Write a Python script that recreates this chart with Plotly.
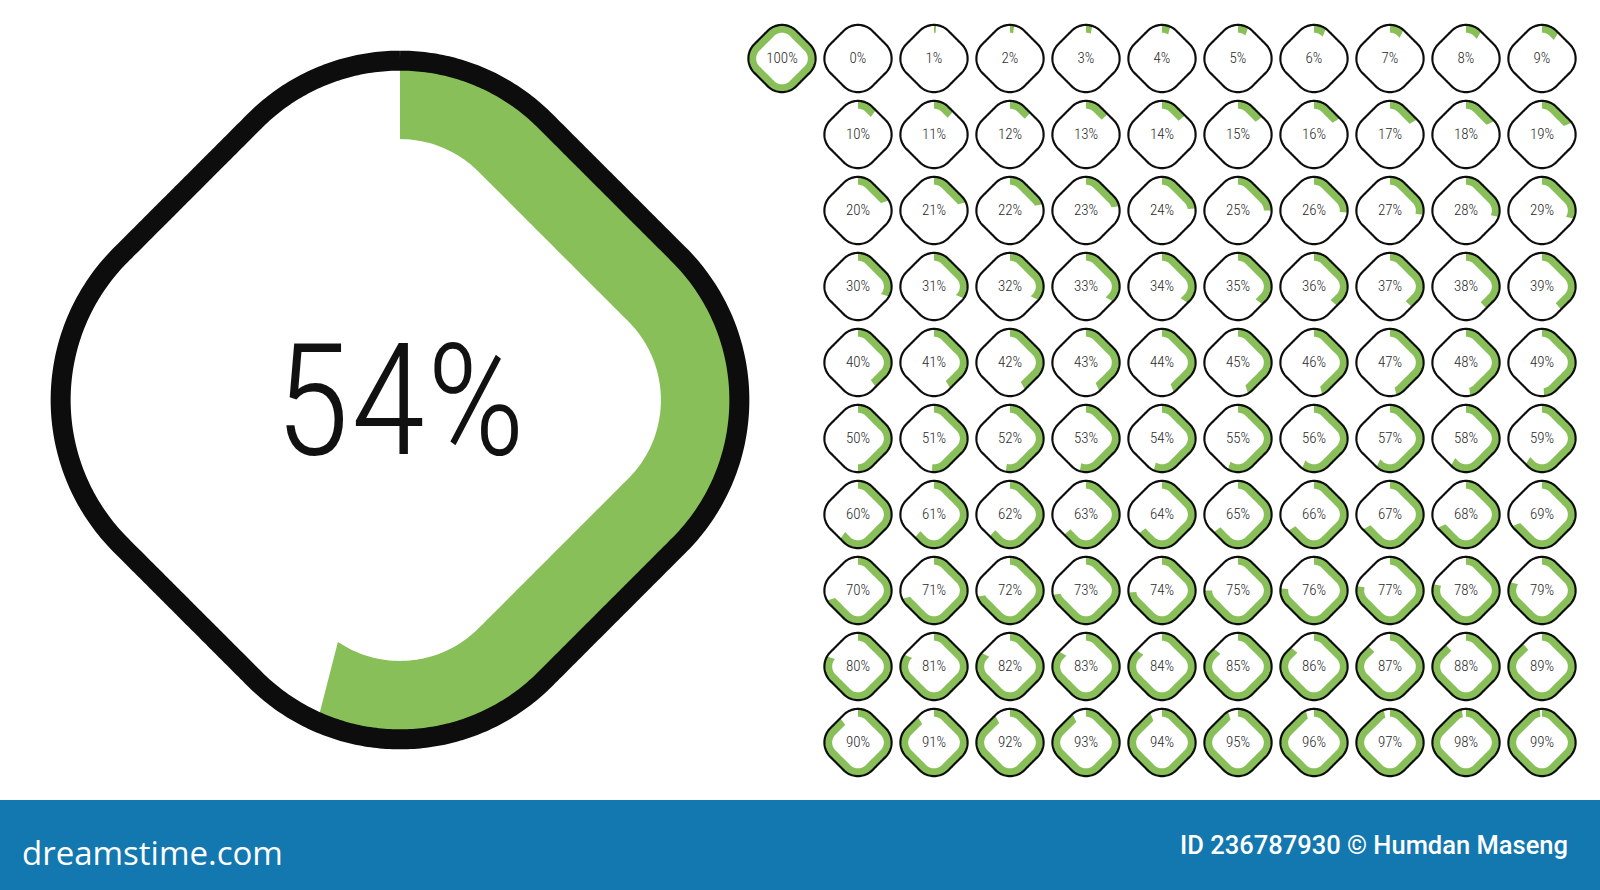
import numpy as np
import plotly.graph_objects as go

# ---------------- data ----------------
highlight_value = 54
extra_value = 100            # shown to the left of the first row
grid_values = [
    [0, 1, 2, 3, 4, 5, 6, 7, 8, 9],
    [10, 11, 12, 13, 14, 15, 16, 17, 18, 19],
    [20, 21, 22, 23, 24, 25, 26, 27, 28, 29],
    [30, 31, 32, 33, 34, 35, 36, 37, 38, 39],
    [40, 41, 42, 43, 44, 45, 46, 47, 48, 49],
    [50, 51, 52, 53, 54, 55, 56, 57, 58, 59],
    [60, 61, 62, 63, 64, 65, 66, 67, 68, 69],
    [70, 71, 72, 73, 74, 75, 76, 77, 78, 79],
    [80, 81, 82, 83, 84, 85, 86, 87, 88, 89],
    [90, 91, 92, 93, 94, 95, 96, 97, 98, 99],
]
banner_left_text = "dreamstime.com"
banner_right_text = "ID 236787930 © Humdan Maseng"

# ---------------- style / geometry ----------------
W, H = 1600, 890
GREEN = "#89BF58"
BLACK = "#0d0d0d"
BANNER = "#1377B0"
LABEL_FONT = "Roboto Condensed, DejaVu Sans Condensed, Roboto, sans-serif"

# base rounded-diamond geometry (big icon, pixels)
S_OUT, R_OUT, W_OUT = 300.0, 205.0, 20.0     # outline centre line
S_IN, R_IN = 217.0, 111.0                    # inner edge of the progress band
BIG_C = (400.0, 400.0)
SMALL_K = 0.099
GRID_X0, GRID_Y0, GRID_STEP = 858.0, 58.5, 76.0


def boundary_radius(theta, s, r):
    """distance from centre to a 45deg-rotated rounded square along angle theta
    (clockwise from 12 o'clock)."""
    dx, dy = np.sin(theta), -np.cos(theta)
    u = np.abs((dx + dy) / np.sqrt(2))
    v = np.abs((dx - dy) / np.sqrt(2))
    lo = np.zeros_like(theta)
    hi = np.full_like(theta, 3 * s)
    for _ in range(48):
        mid = (lo + hi) / 2
        qx, qy = mid * u - (s - r), mid * v - (s - r)
        d = np.hypot(np.maximum(qx, 0), np.maximum(qy, 0)) + np.minimum(np.maximum(qx, qy), 0) - r
        inside = d < 0
        lo = np.where(inside, mid, lo)
        hi = np.where(inside, hi, mid)
    return (lo + hi) / 2


def to_xy(theta, rad, c, k):
    return c[0] + k * rad * np.sin(theta), c[1] - k * rad * np.cos(theta)


def outline_path(c, k, n=480):
    th = np.linspace(0, 2 * np.pi, n)
    return to_xy(th, boundary_radius(th, S_OUT, R_OUT), c, k)


def band_path(value, c, k, n=480):
    if value <= 0:
        return None
    m = max(int(n * value / 100), 3)
    th = np.linspace(0, 2 * np.pi * value / 100, m)
    xo, yo = to_xy(th, boundary_radius(th, S_OUT, R_OUT), c, k)
    xi, yi = to_xy(th, boundary_radius(th, S_IN, R_IN), c, k)
    xs = np.concatenate([xo, xi[::-1], xo[:1]])
    ys = np.concatenate([yo, yi[::-1], yo[:1]])
    return xs, ys


# small icons: positions from grid indices
small_items = [(extra_value, GRID_X0 - GRID_STEP, GRID_Y0)]
for ri, row in enumerate(grid_values):
    for ci, val in enumerate(row):
        small_items.append((val, GRID_X0 + ci * GRID_STEP, GRID_Y0 + ri * GRID_STEP))

bx, by, ox, oy, lx, ly, lt = [], [], [], [], [], [], []
for val, cx, cy in small_items:
    bp = band_path(val, (cx, cy), SMALL_K, n=200)
    if bp is not None:
        bx += list(bp[0]) + [None]
        by += list(bp[1]) + [None]
    px, py = outline_path((cx, cy), SMALL_K, n=200)
    ox += list(px) + [None]
    oy += list(py) + [None]
    lx.append(cx)
    ly.append(cy + 1.0)
    lt.append(f"{val}%")

fig = go.Figure()

# big icon
bxb, byb = band_path(highlight_value, BIG_C, 1.0)
fig.add_trace(go.Scatter(x=bxb, y=byb, mode="lines", fill="toself", fillcolor=GREEN,
                         line=dict(width=0, color=GREEN, simplify=False), hoverinfo="skip"))
pxb, pyb = outline_path(BIG_C, 1.0, n=720)
fig.add_trace(go.Scatter(x=pxb, y=pyb, mode="lines",
                         line=dict(width=W_OUT, color=BLACK, simplify=False),
                         hoverinfo="skip"))
fig.add_trace(go.Scatter(x=[BIG_C[0]], y=[BIG_C[1] + 15], mode="text", text=[f"{highlight_value}%"],
                         textfont=dict(family=LABEL_FONT, size=156, color="#111111", weight=300),
                         hoverinfo="skip"))

# small icons
fig.add_trace(go.Scatter(x=bx, y=by, mode="lines", fill="toself", fillcolor=GREEN,
                         line=dict(width=0, color=GREEN, simplify=False), connectgaps=False,
                         hoverinfo="skip"))
fig.add_trace(go.Scatter(x=ox, y=oy, mode="lines", line=dict(width=2.2, color=BLACK, simplify=False),
                         connectgaps=False, hoverinfo="skip"))
fig.add_trace(go.Scatter(x=lx, y=ly, mode="text", text=lt,
                         textfont=dict(family=LABEL_FONT, size=15, color="#2a2a2a", weight=300),
                         hoverinfo="skip"))

# bottom banner
fig.add_shape(type="rect", xref="x", yref="y", x0=0, x1=W, y0=800, y1=H,
              fillcolor=BANNER, line=dict(width=0), layer="below")
fig.add_annotation(x=20, y=852, xref="x", yref="y", text=banner_left_text, showarrow=False,
                   xanchor="left", yanchor="middle",
                   font=dict(family="Open Sans, Lato, sans-serif", size=33, color="white"))
fig.add_annotation(x=1570, y=845, xref="x", yref="y", text=banner_right_text, showarrow=False,
                   xanchor="right", yanchor="middle",
                   font=dict(family="Roboto, sans-serif", size=25.5, color="white", weight=500))

fig.update_layout(
    width=W, height=H, margin=dict(l=0, r=0, t=0, b=0),
    paper_bgcolor="white", plot_bgcolor="white", showlegend=False,
    xaxis=dict(range=[0, W], visible=False, fixedrange=True),
    yaxis=dict(range=[H, 0], visible=False, fixedrange=True),
)
fig.write_html("out.html", config={"displayModeBar": False},
               post_script="document.body.style.margin='0';document.body.style.overflow='hidden';")
